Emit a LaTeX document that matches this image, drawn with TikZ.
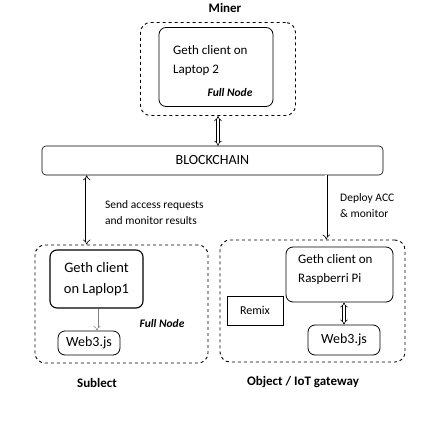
\documentclass[tikz,border=0pt]{standalone}
\usepackage{fontspec}
\setmainfont{Carlito}
\usetikzlibrary{arrows.meta, positioning}

\newcommand{\fs}[1]{\fontsize{#1}{1.45\dimexpr#1pt\relax}\selectfont}

\begin{document}
\begin{tikzpicture}[x=1pt, y=-1pt, node distance=1cm]
    \useasboundingbox (0,0) rectangle (436,422);
    \tikzset{
        groupbox/.style={draw, dashed, line width=0.9pt, rounded corners=10pt},
        clientbox/.style={draw, line width=0.8pt, rounded corners=7pt},
        dblarrow/.style={double, double distance=2pt, line width=0.6pt, {Implies}-{Implies}},
        grouplabel/.style={font=\fs{13}\bfseries},
        nodetag/.style={font=\fs{11.5}\bfseries\itshape},
        note/.style={align=left, font=\fs{11.5}, inner sep=0pt}
    }

    % miner
    \node (miner) [groupbox, minimum width=155pt, minimum height=93pt] at (218,69) {};
    \node (minerlbl) [grouplabel] at (225,8) {Miner};
    \node (geth2) [clientbox, minimum width=114pt, minimum height=79pt] at (216,67) {};
    \node (geth2txt) [align=left, font=\fs{13}, anchor=north west, inner sep=0pt] at (173,45) {Geth client on\\Laptop 2};
    \node (full2) [nodetag] at (230,93) {Full Node};

    % blockchain
    \node (chain) [draw, line width=0.6pt, rounded corners=4pt, minimum width=341pt, minimum height=29pt, font=\fs{14}] at (212.5,160.5) {BLOCKCHAIN};
    \draw [dblarrow] (miner.south) -- (miner.south |- chain.north);

    % subject
    \node (subj) [groupbox, minimum width=173pt, minimum height=118pt] at (121.5,304) {};
    \node (subjlbl) [grouplabel] at (97,383) {Sublect};
    \node (geth1) [clientbox, line width=1.1pt, minimum width=93pt, minimum height=58pt, align=center, font=\fs{14.5}] at (96.5,279) {Geth client\\on Laplop1};
    \node (web1) [clientbox, minimum width=62pt, minimum height=24pt, font=\fs{14}] at (89,343) {Web3.js};
    \node (full1) [nodetag] at (162,324) {Full Node};
    \draw [double=white, double distance=2pt, line width=0.5pt, draw=gray, -{Implies}] (geth1.south -| 97,0) -- (web1.north -| 97,0);

    % object / gateway
    \node (obj) [groupbox, minimum width=185pt, minimum height=122pt] at (312.5,301) {};
    \node (objlbl) [grouplabel] at (303,382) {Object / IoT gateway};
    \node (gethpi) [clientbox, minimum width=107pt, minimum height=55pt] at (339.5,274.5) {};
    \node (gethpitxt) [align=left, font=\fs{13}, anchor=north west, inner sep=0pt] at (298,254) {Geth client on\\Raspberri Pi};
    \node (remix) [draw, line width=0.8pt, minimum width=56pt, minimum height=29pt, font=\fs{12}] at (255,310.5) {Remix};
    \node (web2) [clientbox, minimum width=72pt, minimum height=30pt, font=\fs{14}] at (344,340) {Web3.js};
    \draw [dblarrow] (gethpi.south -| web2.north) -- (web2.north);

    % links to the chain
    \draw [dblarrow] ([xshift=45pt]chain.south west) -- ([xshift=45pt]chain.south west |- subj.north);
    \draw [double, double distance=2pt, line width=0.6pt, -{Implies}] ([xshift=-57pt]chain.south east) -- ([xshift=-57pt]chain.south east |- obj.north);
    \node (sendlbl) [note, anchor=north west] at (105,200) {Send access requests\\and monitor results};
    \node (deploylbl) [note, anchor=north west] at (340,193) {Deploy ACC\\\& monitor};
\end{tikzpicture}
\end{document}
